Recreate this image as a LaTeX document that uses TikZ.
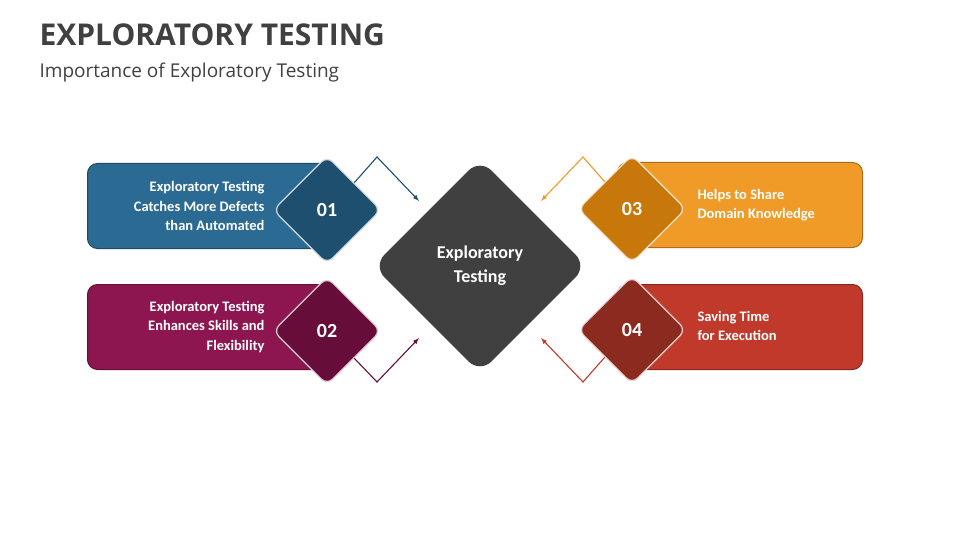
\documentclass[tikz,border=0pt]{standalone}
\usepackage{fontspec}
\setmainfont{Carlito}
\newfontfamily\headfont{Open Sans}
\usetikzlibrary{shapes.geometric}
\definecolor{cblue}{HTML}{2B6A92}
\definecolor{dblue}{HTML}{1E4F6E}
\definecolor{cpurple}{HTML}{8E1650}
\definecolor{dpurple}{HTML}{660D39}
\definecolor{corange}{HTML}{F09A28}
\definecolor{dorange}{HTML}{C8780A}
\definecolor{cred}{HTML}{C0392B}
\definecolor{dred}{HTML}{8B2A1F}
\definecolor{cgray}{HTML}{404040}
\begin{document}
\begin{tikzpicture}[x=1pt,y=-1pt,
    box/.style={draw=#1!70!black, fill=#1, line width=1pt, rounded corners=10pt,
      minimum width=245pt, minimum height=85pt, inner sep=0pt},
    num/.style={diamond, aspect=1, draw=white!80!#1, line width=1.2pt, fill=#1,
      rounded corners=8pt, minimum width=108pt, minimum height=108pt, inner sep=0pt,
      text=white, font=\bfseries\fontsize{20}{22}\selectfont},
    lbl/.style={text=white, font=\bfseries\fontsize{14.5}{19.5}\selectfont},
    conn/.style={draw=#1, line width=1.1pt, -latex}]
  \useasboundingbox (0,0) rectangle (960,540);
  % titles
  \node[anchor=west, font=\headfont\bfseries\fontsize{30}{34}\selectfont, text=cgray] (title) at (36,35) {EXPLORATORY TESTING};
  \node[anchor=west, font=\headfont\fontsize{19}{22}\selectfont, text=cgray] (sub) at (36,73) {Importance of Exploratory Testing};
  % boxes
  \node[box=cblue] (b1) at (210,206) {};
  \node[box=cpurple] (b2) at (210,327) {};
  \node[box=corange] (b3) at (740,205) {};
  \node[box=cred] (b4) at (740,327) {};
  % centre
  \node[diamond, aspect=1, fill=cgray, rounded corners=16pt, minimum width=214pt,
    minimum height=214pt, inner sep=0pt, text=white, align=center,
    font=\bfseries\fontsize{18}{24}\selectfont] (core) at (480,266) {Exploratory\\Testing};
  % numbers
  \node[num=dblue] (d1) at (327,210) {01};
  \node[num=dpurple] (d2) at (327,331) {02};
  \node[num=dorange] (d3) at (632,209) {03};
  \node[num=dred] (d4) at (632,330) {04};
  % texts
  \node[lbl, align=right, anchor=east] (t1) at (268,206) {Exploratory Testing\\Catches More Defects\\than Automated};
  \node[lbl, align=right, anchor=east] (t2) at (268,327) {Exploratory Testing\\Enhances Skills and\\Flexibility};
  \node[lbl, align=left, anchor=west] (t3) at (694,205) {Helps to Share\\Domain Knowledge};
  \node[lbl, align=left, anchor=west] (t4) at (694,326) {Saving Time\\for Execution};
  % connectors
  \coordinate (k1) at (377,157);
  \coordinate (k2) at (377,382);
  \coordinate (k3) at (583,157);
  \coordinate (k4) at (583,382);
  \coordinate (e1) at (419,201);
  \coordinate (e2) at (419,338);
  \coordinate (e3) at (541,201);
  \coordinate (e4) at (541,338);
  \draw[conn=dblue] (d1.45) -- (k1) -- (e1);
  \draw[conn=dpurple] (d2.-45) -- (k2) -- (e2);
  \draw[conn=corange] (d3.135) -- (k3) -- (e3);
  \draw[conn=cred] (d4.-135) -- (k4) -- (e4);
\end{tikzpicture}
\end{document}
